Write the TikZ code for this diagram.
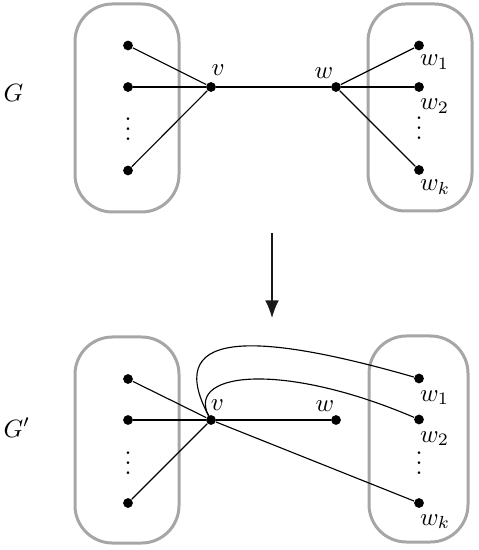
\documentclass[tikz,border=0pt]{standalone}
\usetikzlibrary{arrows.meta}
\begin{document}
\begin{tikzpicture}[x=0.4pt,y=-0.4pt,
  vtx/.style={circle,fill=black,inner sep=0pt,minimum size=3.9pt},
  grp/.style={draw=black!35,line width=1.2pt,rounded corners=15pt},
  edge/.style={line width=0.45pt},
  lbl/.style={inner sep=0pt,anchor=base},
  wlbl/.style={inner sep=0pt,anchor=base west},
  vd/.style={inner sep=0pt,anchor=base}]
\useasboundingbox (0,0) rectangle (478,550);
% ---------- top graph G ----------
\draw[grp] (75,4) rectangle (179,212);
\draw[grp] (368,4) rectangle (472,211);
\node[lbl,anchor=base west] (G) at (3,102) {$G$};
\node[vtx] (a1) at (128,45.5) {};
\node[vtx] (a2) at (128,87) {};
\node[vtx] (a3) at (128,170.5) {};
\node[vd] (ad) at (128,140.5) {$\vdots$};
\node[vtx] (v) at (211,87) {};
\node[vtx] (w) at (336,87) {};
\node[lbl] (vl) at (218,76) {$v$};
\node[lbl] (wl) at (324,79) {$w$};
\node[vtx] (r1) at (419,45.5) {};
\node[vtx] (r2) at (419,87) {};
\node[vtx] (r3) at (419,170) {};
\node[vd] (rd) at (419,140) {$\vdots$};
\node[wlbl] (r1l) at (419.5,66) {$w_1$};
\node[wlbl] (r2l) at (419.5,110) {$w_2$};
\node[wlbl] (r3l) at (419.5,191) {$w_k$};
\draw[edge] (a1) -- (v);
\draw[edge] (a2) -- (v);
\draw[edge] (a3) -- (v);
\draw[edge] (v) -- (w);
\draw[edge] (w) -- (r1);
\draw[edge] (w) -- (r2);
\draw[edge] (w) -- (r3);
% ---------- arrow ----------
\coordinate (s) at (272,233);
\coordinate (t) at (272,318);
\draw[line width=0.5pt,black!90,-{Latex[length=7pt,width=5.4pt]}] (s) -- (t);
% ---------- bottom graph G' ----------
\draw[grp] (75,337) rectangle (179,543);
\draw[grp] (369,336) rectangle (468,542);
\node[lbl,anchor=base west] (G2) at (3,437) {$G'$};
\node[vtx] (b1) at (128,379) {};
\node[vtx] (b2) at (128,420) {};
\node[vtx] (b3) at (128,503) {};
\node[vd] (bd) at (128,474) {$\vdots$};
\node[vtx] (v2) at (211,420) {};
\node[vtx] (w2) at (336,420) {};
\node[lbl] (v2l) at (217.5,410.5) {$v$};
\node[lbl] (w2l) at (325,411) {$w$};
\node[vtx] (s1) at (419,378.5) {};
\node[vtx] (s2) at (419,419.5) {};
\node[vtx] (s3) at (419,503) {};
\node[vd] (sd) at (419,474) {$\vdots$};
\node[wlbl] (s1l) at (419.5,401) {$w_1$};
\node[wlbl] (s2l) at (419.5,442) {$w_2$};
\node[wlbl] (s3l) at (419.5,525) {$w_k$};
\draw[edge] (b1) -- (v2);
\draw[edge] (b2) -- (v2);
\draw[edge] (b3) -- (v2);
\draw[edge] (v2) -- (w2);
\draw[edge] (v2) -- (s3);
\draw[edge] (v2.center) .. controls (160,330) and (250,330) .. (s1);
\draw[edge] (v2.center) .. controls (180,372) and (280,360) .. (s2);
\end{tikzpicture}
\end{document}
